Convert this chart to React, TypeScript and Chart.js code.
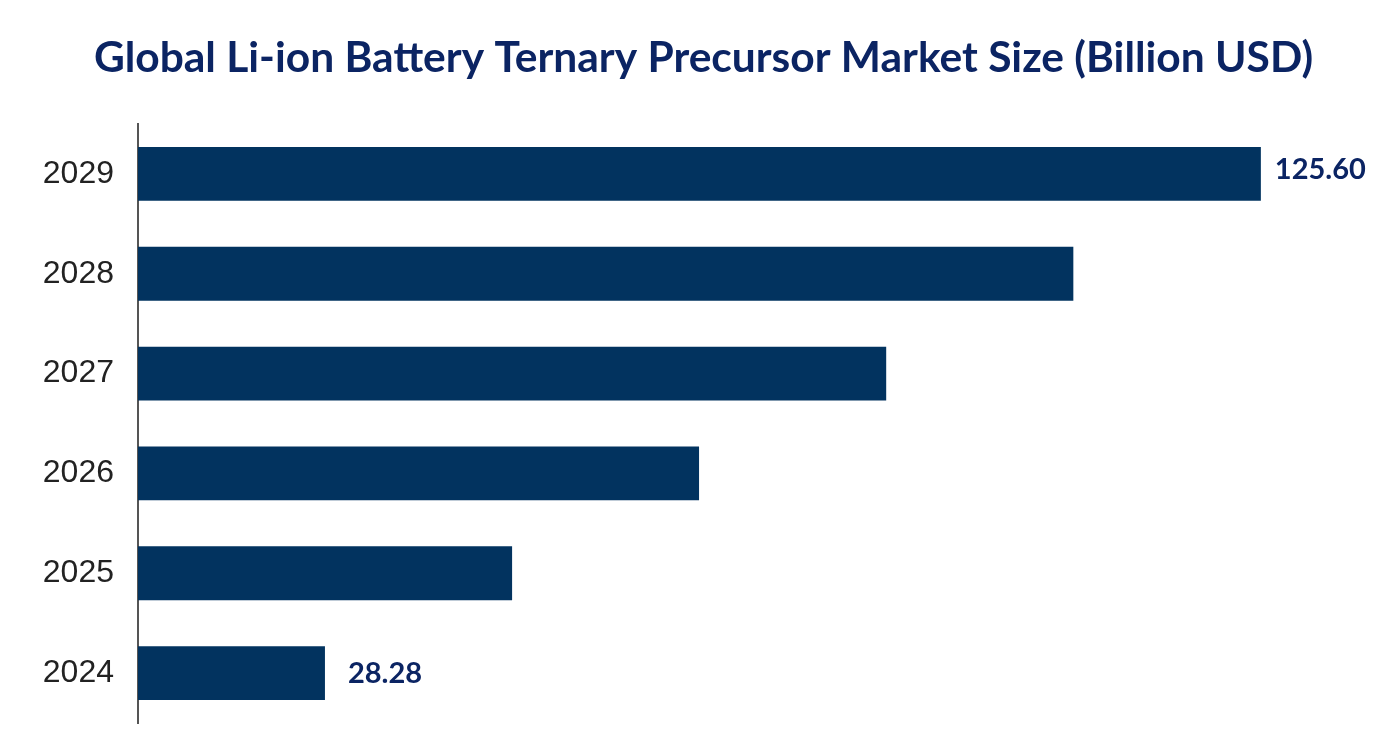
import { useEffect, useRef } from "react";
import { Chart, registerables, Plugin } from "chart.js";

Chart.register(...registerables);

const years = ["2029", "2028", "2027", "2026", "2025", "2024"];
const marketSize = [125.6, 106.1, 86.64, 67.18, 47.74, 28.28];
// only the first and last year carry a value label
const shownLabels = ["125.60", "", "", "", "", "28.28"];

const NAVY = "#02335f";
const TITLE_NAVY = "#0b2463";

const valueLabels: Plugin<"bar"> = {
  id: "valueLabels",
  afterDatasetsDraw(chart) {
    const ctx = chart.ctx;
    const meta = chart.getDatasetMeta(0);
    ctx.save();
    ctx.font = "bold 29px Lato";
    ctx.fillStyle = TITLE_NAVY;
    ctx.textAlign = "left";
    ctx.textBaseline = "middle";
    meta.data.forEach((bar, i) => {
      const text = shownLabels[i];
      if (!text) return;
      const gap = i === 0 ? 14 : 23;
      const dy = i === 0 ? -4 : 1;
      ctx.fillText(text, bar.x + gap, bar.y + dy);
    });
    ctx.restore();
  },
};

const App = () => {
  const chartRef = useRef<HTMLCanvasElement>(null);

  useEffect(() => {
    if (!chartRef.current) return;
    const myChart = new Chart(chartRef.current, {
      type: "bar",
      data: {
        labels: years,
        datasets: [
          {
            data: marketSize,
            backgroundColor: NAVY,
            borderWidth: 0,
            categoryPercentage: 1,
            barPercentage: 0.54,
          },
        ],
      },
      options: {
        indexAxis: "y",
        responsive: false,
        animation: false,
        devicePixelRatio: 1,
        layout: {
          padding: { left: 24, right: 0, top: 0, bottom: 20 },
        },
        plugins: {
          legend: { display: false },
          tooltip: { enabled: false },
          title: {
            display: true,
            text: "Global Li-ion Battery Ternary Precursor Market Size (Billion USD)",
            color: TITLE_NAVY,
            font: { family: "Lato", size: 42.5, weight: "bold", lineHeight: 1.2 },
            padding: { top: 33, bottom: 40 },
          },
        },
        scales: {
          x: {
            display: false,
            min: 8.84,
            max: 138.3,
          },
          y: {
            afterFit: (scale) => {
              scale.width = 114;
              scale.paddingTop = 0;
              scale.paddingBottom = 0;
            },
            grid: { display: false, drawTicks: false },
            border: { display: true, color: "#555555", width: 2 },
            ticks: {
              color: "#222222",
              padding: 24,
              font: { family: "Liberation Sans", size: 32 },
            },
          },
        },
      },
      plugins: [valueLabels],
    });

    return () => {
      myChart.destroy();
    };
  }, []);

  return (
    <div style={{ position: "absolute", left: 0, top: 0, width: 1383, height: 743, background: "#fff" }}>
      <canvas ref={chartRef} width={1383} height={743} />
    </div>
  );
};

export default App;
